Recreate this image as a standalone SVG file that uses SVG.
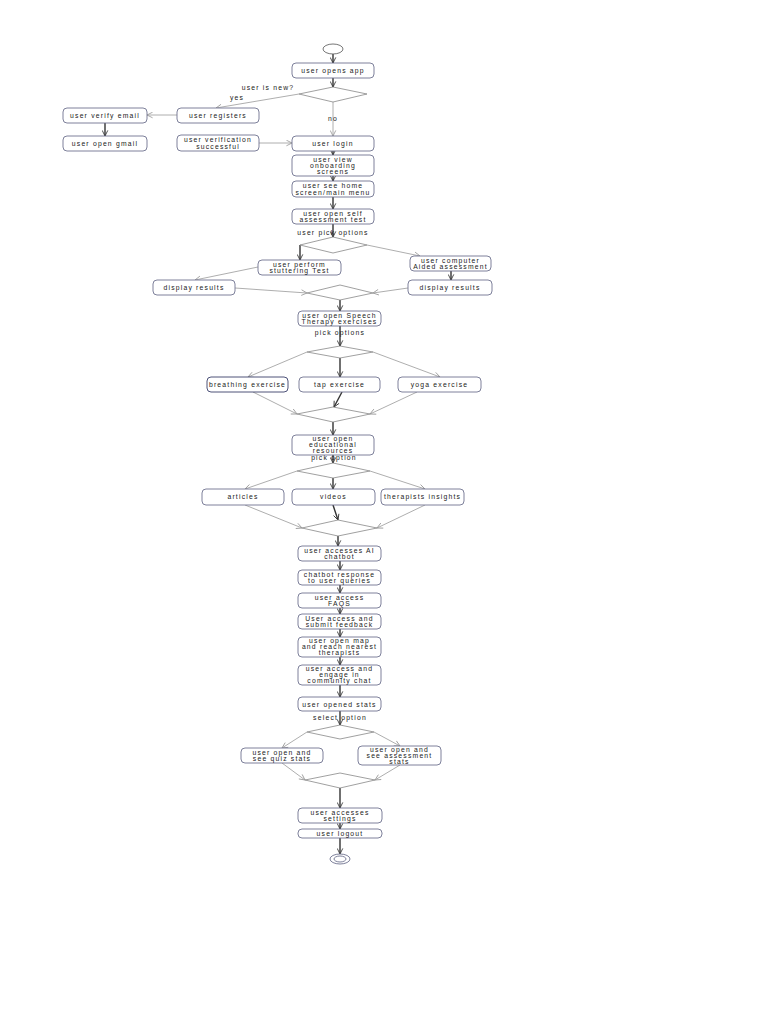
<svg xmlns="http://www.w3.org/2000/svg" width="768" height="1024" viewBox="0 0 768 1024">
<style>
.n{fill:#fff;stroke:#6f7390;stroke-width:0.9}
.t{font-family:"Liberation Sans",Arial,sans-serif;font-size:6.8px;letter-spacing:1.2px;fill:#222;text-anchor:middle}
.d{fill:#fff;stroke:#888;stroke-width:0.8}
.g{fill:none;stroke:#999;stroke-width:0.8;marker-end:url(#ag)}
.k{fill:none;stroke:#333;stroke-width:1.4;marker-end:url(#ak)}
</style>
<defs>
<marker id="ag" viewBox="0 0 10 10" refX="9" refY="5" markerWidth="7" markerHeight="7" markerUnits="userSpaceOnUse" orient="auto"><path d="M1,1 L9,5 L1,9" fill="none" stroke="#999" stroke-width="1.2"/></marker>
<marker id="ak" viewBox="0 0 10 10" refX="9" refY="5" markerWidth="7" markerHeight="7" markerUnits="userSpaceOnUse" orient="auto"><path d="M1,1 L9,5 L1,9" fill="none" stroke="#333" stroke-width="1.2"/></marker>
</defs>
<rect width="768" height="1024" fill="#fff"/>
<g id="connectors">
<path class="k" d="M333,54 V63"/>
<path class="k" d="M333,78 V87"/>
<path class="g" d="M299,94 L216,108"/>
<path class="g" d="M333,102 V136"/>
<path class="g" d="M177,115 H147"/>
<path class="k" d="M105,122 V136"/>
<path class="g" d="M259,143 H292"/>
<path class="k" d="M333,151 V155"/>
<path class="k" d="M333,176 V181"/>
<path class="k" d="M333,197 V209"/>
<path class="k" d="M333,224 V237"/>
<path class="k" d="M300,245 V260"/>
<path class="g" d="M367,245 L420,256"/>
<path class="g" d="M258,267 L195,280"/>
<path class="k" d="M451,271 V280"/>
<path class="g" d="M235,288 L307,293"/>
<path class="g" d="M408,288 L373,293"/>
<path class="k" d="M340,300 V311"/>
<path class="k" d="M340,326 V346"/>
<path class="g" d="M307,352 L248,377"/>
<path class="k" d="M340,358 V377"/>
<path class="g" d="M373,352 L440,377"/>
<path class="g" d="M253,392 L297,414"/>
<path class="k" d="M342,392 L334,407"/>
<path class="g" d="M417,392 L370,414"/>
<path class="k" d="M333,422 V435"/>
<path class="k" d="M333,455 V463"/>
<path class="g" d="M297,471 L245,489"/>
<path class="k" d="M333,478 V489"/>
<path class="g" d="M370,471 L425,489"/>
<path class="g" d="M245,505 L302,528"/>
<path class="k" d="M333,505 L338,520"/>
<path class="g" d="M425,505 L377,528"/>
<path class="k" d="M338,536 V546"/>
<path class="k" d="M340,561 V570"/>
<path class="k" d="M340,585 V593"/>
<path class="k" d="M340,608 V614"/>
<path class="k" d="M340,629 V637"/>
<path class="k" d="M340,657 V665"/>
<path class="k" d="M340,685 V697"/>
<path class="k" d="M340,711 V725"/>
<path class="g" d="M307,732 L282,748"/>
<path class="g" d="M374,732 L400,746"/>
<path class="g" d="M282,763 L305,780"/>
<path class="g" d="M400,765 L375,780"/>
<path class="k" d="M340,788 V808"/>
<path class="k" d="M340,823 V829"/>
<path class="k" d="M340,838 V854"/>
</g>
<g id="labels">
<text class="t" x="268" y="90">user is new?</text>
<text class="t" x="237" y="100">yes</text>
<text class="t" x="333" y="121">no</text>
<text class="t" x="333" y="235">user pick options</text>
<text class="t" x="340" y="335">pick options</text>
<text class="t" x="334" y="460">pick option</text>
<text class="t" x="340" y="720">select option</text>
</g>
<g id="start"><ellipse cx="333" cy="49" rx="10" ry="5" fill="#fff" stroke="#666" stroke-width="0.9"/></g>
<g id="n1"><rect class="n" x="292" y="63" width="82" height="15" rx="4"/><text class="t" x="333" y="73">user opens app</text></g>
<g id="d1"><path class="d" d="M333,87 L367,94 L333,102 L299,94 Z"/></g>
<g id="n_reg"><rect class="n" x="177" y="108" width="82" height="15" rx="4"/><text class="t" x="218" y="118">user registers</text></g>
<g id="n_verify"><rect class="n" x="63" y="108" width="84" height="15" rx="4"/><text class="t" x="105" y="118">user verify email</text></g>
<g id="n_gmail"><rect class="n" x="63" y="136" width="84" height="15" rx="4"/><text class="t" x="105" y="146">user open gmail</text></g>
<g id="n_vsucc"><rect class="n" x="177" y="135" width="82" height="16" rx="4"/><text class="t" x="218" y="142">user verification</text><text class="t" x="218" y="148.5">successful</text></g>
<g id="n_login"><rect class="n" x="292" y="136" width="82" height="15" rx="4"/><text class="t" x="333" y="146">user login</text></g>
<g id="n_onb"><rect class="n" x="292" y="155" width="82" height="21" rx="4"/><text class="t" x="333" y="161.5">user view</text><text class="t" x="333" y="167.5">onboarding</text><text class="t" x="333" y="173.5">screens</text></g>
<g id="n_home"><rect class="n" x="292" y="181" width="82" height="16" rx="4"/><text class="t" x="333" y="188">user see home</text><text class="t" x="333" y="194.5">screen/main menu</text></g>
<g id="n_self"><rect class="n" x="292" y="209" width="82" height="15" rx="4"/><text class="t" x="333" y="215.5">user open self</text><text class="t" x="333" y="222">assessment test</text></g>
<g id="d2"><path class="d" d="M333,237 L367,245 L333,253 L300,245 Z"/></g>
<g id="n_stut"><rect class="n" x="258" y="260" width="83" height="15" rx="4"/><text class="t" x="299.5" y="266.5">user perform</text><text class="t" x="299.5" y="273">stuttering Test</text></g>
<g id="n_cad"><rect class="n" x="410" y="256" width="81" height="15" rx="4"/><text class="t" x="450.5" y="262.5">user computer</text><text class="t" x="450.5" y="269">Aided assessment</text></g>
<g id="n_dr1"><rect class="n" x="153" y="280" width="82" height="15" rx="4"/><text class="t" x="194" y="290">display results</text></g>
<g id="n_dr2"><rect class="n" x="408" y="280" width="84" height="15" rx="4"/><text class="t" x="450" y="290">display results</text></g>
<g id="d3"><path class="d" d="M340,285 L373,293 L340,300 L307,293 Z"/></g>
<g id="n_speech"><rect class="n" x="298" y="311" width="83" height="15" rx="4"/><text class="t" x="339.5" y="317.5">user open Speech</text><text class="t" x="339.5" y="324">Therapy exercises</text></g>
<g id="d4"><path class="d" d="M340,346 L373,352 L340,358 L307,352 Z"/></g>
<g id="n_breath"><rect class="n" x="207" y="377" width="81" height="15" rx="4" style="stroke:#3a3f6a"/><text class="t" x="247.5" y="387">breathing exercise</text></g>
<g id="n_tap"><rect class="n" x="299" y="377" width="81" height="15" rx="4"/><text class="t" x="339.5" y="387">tap exercise</text></g>
<g id="n_yoga"><rect class="n" x="398" y="377" width="83" height="15" rx="4"/><text class="t" x="439.5" y="387">yoga exercise</text></g>
<g id="d5"><path class="d" d="M333,407 L370,414 L333,422 L297,414 Z"/></g>
<g id="n_edu"><rect class="n" x="292" y="435" width="82" height="20" rx="4"/><text class="t" x="333" y="441">user open</text><text class="t" x="333" y="447">educational</text><text class="t" x="333" y="453">resources</text></g>
<g id="d6"><path class="d" d="M333,463 L370,471 L333,478 L297,471 Z"/></g>
<g id="n_art"><rect class="n" x="202" y="489" width="82" height="16" rx="4"/><text class="t" x="243" y="499">articles</text></g>
<g id="n_vid"><rect class="n" x="292" y="489" width="83" height="16" rx="4"/><text class="t" x="333.5" y="499">videos</text></g>
<g id="n_ther"><rect class="n" x="381" y="489" width="83" height="16" rx="4"/><text class="t" x="422.5" y="499">therapists insights</text></g>
<g id="d7"><path class="d" d="M338,520 L377,528 L338,536 L302,528 Z"/></g>
<g id="n_ai"><rect class="n" x="298" y="546" width="83" height="15" rx="4"/><text class="t" x="339.5" y="552.5">user accesses AI</text><text class="t" x="339.5" y="559">chatbot</text></g>
<g id="n_resp"><rect class="n" x="298" y="570" width="83" height="15" rx="4"/><text class="t" x="339.5" y="576.5">chatbot response</text><text class="t" x="339.5" y="583">to user queries</text></g>
<g id="n_faq"><rect class="n" x="298" y="593" width="83" height="15" rx="4"/><text class="t" x="339.5" y="599.5">user access</text><text class="t" x="339.5" y="606">FAQS</text></g>
<g id="n_fb"><rect class="n" x="298" y="614" width="83" height="15" rx="4"/><text class="t" x="339.5" y="620.5">User access and</text><text class="t" x="339.5" y="627">submit feedback</text></g>
<g id="n_map"><rect class="n" x="298" y="637" width="83" height="20" rx="4"/><text class="t" x="339.5" y="643">user open map</text><text class="t" x="339.5" y="649">and reach nearest</text><text class="t" x="339.5" y="655">therapists</text></g>
<g id="n_comm"><rect class="n" x="298" y="665" width="83" height="20" rx="4"/><text class="t" x="339.5" y="671">user access and</text><text class="t" x="339.5" y="677">engage in</text><text class="t" x="339.5" y="683">community chat</text></g>
<g id="n_stats"><rect class="n" x="298" y="697" width="83" height="14" rx="4"/><text class="t" x="339.5" y="706.5">user opened stats</text></g>
<g id="d8"><path class="d" d="M340,725 L374,732 L340,739 L307,732 Z"/></g>
<g id="n_quiz"><rect class="n" x="241" y="748" width="82" height="15" rx="4"/><text class="t" x="282" y="754.5">user open and</text><text class="t" x="282" y="761">see quiz stats</text></g>
<g id="n_ass"><rect class="n" x="358" y="746" width="83" height="19" rx="4"/><text class="t" x="399.5" y="752">user open and</text><text class="t" x="399.5" y="758">see assessment</text><text class="t" x="399.5" y="764">stats</text></g>
<g id="d9"><path class="d" d="M340,773 L375,780 L340,788 L305,780 Z"/></g>
<g id="n_set"><rect class="n" x="298" y="808" width="84" height="15" rx="4"/><text class="t" x="340" y="814.5">user accesses</text><text class="t" x="340" y="821">settings</text></g>
<g id="n_out"><rect class="n" x="298" y="829" width="84" height="9" rx="4"/><text class="t" x="340" y="836">user logout</text></g>
<g id="end"><ellipse cx="340" cy="859" rx="10" ry="5" fill="#fff" stroke="#6f7390" stroke-width="0.9"/><ellipse cx="340" cy="859" rx="6" ry="3" fill="none" stroke="#6f7390" stroke-width="0.9"/></g>
</svg>
